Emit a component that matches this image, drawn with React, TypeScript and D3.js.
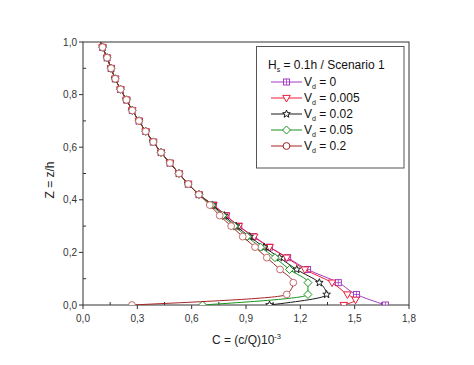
import React from "react";
import * as d3 from "d3";

// ---- data ----
const zCommon = [1.0, 0.98, 0.94, 0.9, 0.86, 0.82, 0.78, 0.74, 0.7, 0.66, 0.62, 0.58, 0.54, 0.5, 0.46, 0.42];
const cCommon = [0.097, 0.108, 0.133, 0.155, 0.178, 0.207, 0.24, 0.272, 0.309, 0.346, 0.388, 0.431, 0.48, 0.53, 0.581, 0.64];

const zLower = [0.38, 0.34, 0.3, 0.26, 0.22, 0.18, 0.135, 0.085, 0.04, 0];
const zLowerRed = [0.38, 0.34, 0.3, 0.26, 0.22, 0.18, 0.135, 0.085, 0.04, 0.02, 0];

const cPurple = [0.72, 0.79, 0.86, 0.94, 1.03, 1.13, 1.24, 1.41, 1.51, 1.67];
const cRed = [0.72, 0.79, 0.86, 0.945, 1.03, 1.125, 1.225, 1.375, 1.46, 1.505, 1.44];
const cBlack = [0.715, 0.78, 0.845, 0.92, 1.0, 1.085, 1.18, 1.305, 1.345, 1.03];
const cGreen = [0.71, 0.77, 0.835, 0.905, 0.98, 1.06, 1.14, 1.242, 1.242, 0.66];
const cBrown = [0.7, 0.755, 0.818, 0.882, 0.95, 1.015, 1.088, 1.161, 1.125, 0.27];

const seriesNames = ["0", "0.005", "0.02", "0.05", "0.2"];
const seriesColors = ["#a43cc4", "#ee1c3a", "#1a1a1a", "#18921c", "#a22424"];
const markerStrokes = ["#a43cc4", "#ee1c3a", "#1a1a1a", "#18921c", "#c46a6a"];
const seriesShapes = ["squareCross", "triangleDown", "star", "diamond", "circle"];
const seriesLowerC = [cPurple, cRed, cBlack, cGreen, cBrown];
const seriesLowerZ = [zLower, zLowerRed, zLower, zLower, zLower];

const xTicks = [0, 0.3, 0.6, 0.9, 1.2, 1.5, 1.8];
const yTicks = [0, 0.2, 0.4, 0.6, 0.8, 1.0];

const W = 474;
const H = 365;
const left = 83;
const right = 409;
const top = 42;
const bottom = 305;

const fmt = (v: number) => v.toFixed(1).replace(".", ",");

function Marker({ shape, x, y, stroke }: { shape: string; x: number; y: number; stroke: string }) {
  const r = 3.4;
  const common = { fill: "#fff", stroke, strokeWidth: 1 };
  if (shape === "circle") return <circle cx={x} cy={y} r={r} {...common} />;
  if (shape === "diamond")
    return <path d={`M${x},${y - r - 0.6}L${x + r + 0.6},${y}L${x},${y + r + 0.6}L${x - r - 0.6},${y}Z`} {...common} />;
  if (shape === "triangleDown")
    return <path d={`M${x - r - 0.4},${y - r + 0.8}L${x + r + 0.4},${y - r + 0.8}L${x},${y + r + 0.6}Z`} {...common} />;
  if (shape === "squareCross")
    return (
      <g>
        <rect x={x - r + 0.4} y={y - r + 0.4} width={2 * r - 0.8} height={2 * r - 0.8} {...common} />
        <path d={`M${x - r + 0.4},${y}H${x + r - 0.4}M${x},${y - r + 0.4}V${y + r - 0.4}`} stroke={stroke} strokeWidth={0.8} />
      </g>
    );
  // star
  const pts: string[] = [];
  for (let i = 0; i < 10; i++) {
    const a = -Math.PI / 2 + (i * Math.PI) / 5;
    const rr = i % 2 === 0 ? r + 0.6 : (r + 0.6) * 0.42;
    pts.push(`${x + rr * Math.cos(a)},${y + rr * Math.sin(a)}`);
  }
  return <path d={`M${pts.join("L")}Z`} {...common} />;
}

export default function App() {
  const x = d3.scaleLinear().domain([0, 1.8]).range([left, right]);
  const y = d3.scaleLinear().domain([0, 1]).range([bottom, top]);

  const series = seriesNames.map((name, i) => {
    const zs = [...zCommon, ...seriesLowerZ[i]];
    const cs = [...cCommon, ...seriesLowerC[i]];
    const pts = zs.map((z, k) => ({ z, c: cs[k] }));
    return { name, color: seriesColors[i], mstroke: markerStrokes[i], shape: seriesShapes[i], pts };
  });

  const line = d3
    .line<{ z: number; c: number }>()
    .x((d) => x(d.c))
    .y((d) => y(d.z))
    .curve(d3.curveMonotoneY);

  const xMinor = d3.range(0.15, 1.8, 0.3);
  const yMinor = d3.range(0.1, 1.0, 0.2);

  const font = "'Liberation Sans', Arial, sans-serif";
  const legendY = [82, 98, 114, 130, 146];

  return (
    <svg width={W} height={H} style={{ position: "absolute", left: 0, top: 0, background: "#fff" }} fontFamily={font}>
      <defs>
        <clipPath id="plot">
          <rect x={left} y={top} width={right - left} height={bottom - top} />
        </clipPath>
      </defs>
      {/* frame */}
      <rect x={left} y={top} width={right - left} height={bottom - top} fill="none" stroke="#333" strokeWidth={1} />
      {/* x ticks */}
      {xTicks.map((t) => (
        <g key={"xt" + t}>
          <line x1={x(t)} x2={x(t)} y1={bottom} y2={bottom + 4} stroke="#333" />
          <text x={x(t)} y={322} fontSize={10} textAnchor="middle" fill="#333">
            {fmt(t)}
          </text>
        </g>
      ))}
      {xMinor.map((t) => (
        <line key={"xm" + t} x1={x(t)} x2={x(t)} y1={bottom} y2={bottom - 3} stroke="#333" />
      ))}
      {/* y ticks */}
      {yTicks.map((t) => (
        <g key={"yt" + t}>
          <line x1={left - 4} x2={left} y1={y(t)} y2={y(t)} stroke="#333" />
          <text x={77} y={y(t) + 3.5} fontSize={10} textAnchor="end" fill="#333">
            {fmt(t)}
          </text>
        </g>
      ))}
      {yMinor.map((t) => (
        <line key={"ym" + t} x1={left} x2={left + 3} y1={y(t)} y2={y(t)} stroke="#333" />
      ))}
      {/* axis titles */}
      <text x={212} y={344} fontSize={12} fill="#222">
        C = (c/Q)10
        <tspan fontSize={7.5} dy={-5}>
          -3
        </tspan>
      </text>
      <text transform="translate(54,180) rotate(-90)" fontSize={12} textAnchor="middle" fill="#222">
        Z = z/h
      </text>
      {/* series */}
      <g clipPath="url(#plot)">
        {series.map((s) => (
          <g key={s.name}>
            <path d={line(s.pts) || ""} fill="none" stroke={s.color} strokeWidth={1} />
            {s.pts
              .filter((p) => p.z < 1)
              .map((p, k) => (
                <Marker key={k} shape={s.shape} x={x(p.c)} y={y(p.z)} stroke={s.mstroke} />
              ))}
          </g>
        ))}
      </g>
      {/* legend */}
      <rect x={256.5} y={46.5} width={147.5} height={121.5} fill="#fff" stroke="#555" strokeWidth={1} />
      <text x={268} y={69} fontSize={12} fill="#111">
        H<tspan fontSize={7} dy={3}>s</tspan>
        <tspan dy={-3}> = 0.1h / Scenario 1</tspan>
      </text>
      {series.map((s, i) => (
        <g key={"lg" + s.name}>
          <line x1={271} x2={302} y1={legendY[i]} y2={legendY[i]} stroke={s.color} strokeWidth={1} />
          <Marker shape={s.shape} x={286.5} y={legendY[i]} stroke={s.color} />
          <text x={304} y={legendY[i] + 4} fontSize={12} fill="#111">
            V<tspan fontSize={7} dy={3}>d</tspan>
            <tspan dy={-3}> = {s.name}</tspan>
          </text>
        </g>
      ))}
    </svg>
  );
}
